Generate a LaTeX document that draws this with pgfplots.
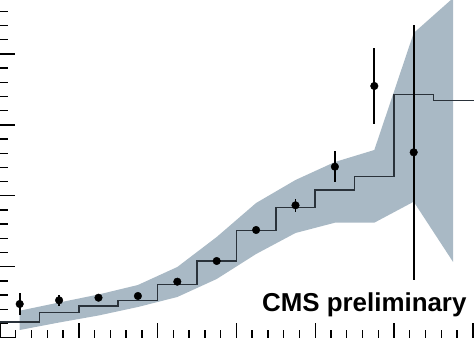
\documentclass[border=0pt]{standalone}
\usepackage{fontspec}
\setmainfont{Liberation Sans}
\usepackage{pgfplots}
\pgfplotsset{compat=1.18}
\definecolor{bandcol}{HTML}{A9B9C5}
\definecolor{stepcol}{HTML}{2A323A}
\begin{document}
\begin{tikzpicture}
\begin{axis}[
  width=474bp, height=338bp, scale only axis,
  xmin=0, xmax=474, ymin=0, ymax=338,
  axis line style={draw=none},
  xtick pos=left, ytick pos=left,
  tick align=inside,
  xtick={0,78.8,157.6,236.4,315.2,394,472.8},
  minor xtick={15.76,31.52,47.28,63.04,94.56,110.32,126.08,141.84,173.36,189.12,204.88,220.64,252.16,267.92,283.68,299.44,330.96,346.72,362.48,378.24,409.76,425.52,441.28,457.04},
  ytick={0.3,71.25,142.2,213.15,284.1},
  minor ytick={14.49,28.68,42.87,57.06,85.44,99.63,113.82,128.01,156.39,170.58,184.77,198.96,227.34,241.53,255.72,269.91,298.29,312.48,326.67},
  xticklabels={}, yticklabels={},
  major tick length=15bp, minor tick length=7.5bp,
  every tick/.style={black, line width=1.4bp},
]
% uncertainty band
\addplot[fill=bandcol, draw=none] coordinates {
 (19.7,27.3) (59.1,35.5) (98.5,43.5) (137.9,53) (177.3,71) (216.7,101)
 (256.1,135) (295.5,158) (334.9,176) (374.3,188) (413.7,305) (453.1,340)
 (453.1,76) (413.7,136.3) (374.3,115.3) (334.9,115.3) (295.5,105) (256.1,84)
 (216.7,59) (177.3,41) (137.9,31) (98.5,22.5) (59.1,15.5) (19.7,8)
} -- cycle;
% step histogram
\addplot[const plot, draw=stepcol, line width=1.5bp] coordinates {
 (0,16) (39.4,25.3) (78.8,32) (118.2,37.7) (157.6,53.7) (197,77)
 (236.4,107.3) (275.8,130.3) (315.2,148) (354.6,161.3) (394,243.7)
 (433.4,237.3) (474,237.3)
};
% data points
\addplot[only marks, mark=*, mark size=3.8bp, black,
  error bars/.cd, y dir=both, y explicit, error mark=none,
  error bar style={line width=1.7bp, black}]
 coordinates {
 (19.7,34) +- (0,11.2)
 (59.1,37.7) +- (0,5.5)
 (98.5,40.3) +- (0,2)
 (137.9,42) +- (0,2)
 (177.3,56.3) +- (0,2)
 (216.7,77) +- (0,2)
 (256.1,108) +- (0,2)
 (295.5,132.7) +- (0,6.5)
 (334.9,171.3) +- (0,15.5)
 (374.3,252) +- (0,38)
 (413.7,185.7) +- (0,127.4)
};
\node[anchor=base east, inner sep=0pt, font=\fontsize{26}{30}\selectfont\bfseries] at (axis cs:466.7,27) {CMS preliminary};
\end{axis}
\pgfresetboundingbox
\useasboundingbox (current axis.south west) rectangle (current axis.north east);
\end{tikzpicture}
\end{document}
